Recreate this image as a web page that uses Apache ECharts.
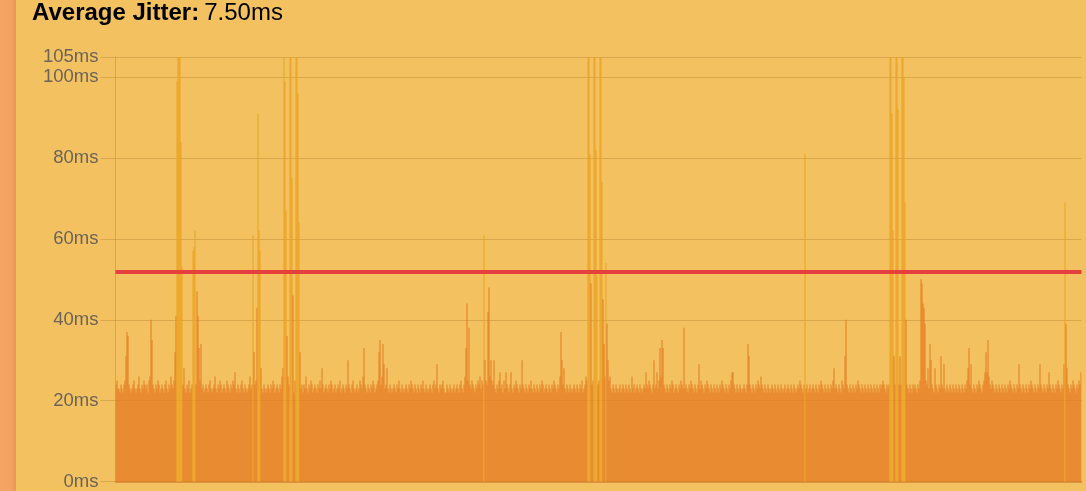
<!DOCTYPE html>
<html>
<head>
<meta charset="utf-8">
<script src="https://cdn.jsdelivr.net/npm/echarts@6/dist/echarts.min.js"></script>
<style>
html,body{margin:0;padding:0;background:#f3c160;}
#chart{width:1086px;height:491px;}
</style>
</head>
<body>
<div id="chart"></div>
<script>
// Jitter samples (ms), one bar per sample
const jitter = [
24,25,23,23,22,24,23,22,24,25,31,37,36,24,23,22,23,24,25,23,22,23,24,26,23,22,24,23,25,24,
23,24,22,25,26,40,35,24,23,22,24,23,25,24,22,23,24,23,22,24,25,23,22,24,23,26,24,23,25,32,
41,99,110,110,110,84,53,24,28,23,22,24,23,25,22,23,24,57,58,62,24,47,41,33,25,34,23,24,22,23,
24,23,22,24,25,23,22,23,24,26,23,22,24,23,25,24,22,23,24,23,22,25,24,23,22,24,23,25,24,27,
23,22,24,23,22,24,25,23,22,24,23,22,23,24,26,23,24,61,32,24,25,43,91,62,57,28,23,22,24,23,
22,23,24,23,22,24,23,25,24,22,23,24,23,22,24,23,26,28,110,99,67,36,26,24,110,110,75,46,22,25,
110,110,96,64,32,23,24,22,24,23,26,23,22,24,23,25,24,22,23,24,23,22,24,23,25,23,28,24,22,23,
24,23,22,24,23,25,24,22,23,24,22,23,24,23,25,22,23,24,23,22,24,23,30,24,23,22,24,25,23,22,
23,24,22,23,25,24,23,26,33,24,23,22,24,23,22,24,23,25,24,22,23,24,25,32,35,24,26,34,29,23,
24,28,23,22,24,23,22,23,24,23,22,24,23,25,23,22,24,23,22,23,24,23,22,24,23,25,24,23,22,24,
23,22,24,23,22,24,23,25,23,22,24,23,22,23,24,23,22,24,25,23,24,29,23,22,24,23,24,25,23,22,
22,24,23,22,24,23,22,23,24,22,23,24,23,22,24,25,23,22,24,26,33,44,25,38,24,23,25,24,23,22,
24,23,25,24,26,23,25,24,61,30,25,24,42,48,26,30,25,24,30,23,22,24,23,25,27,23,24,22,25,23,
27,24,23,22,24,27,23,22,24,23,25,24,23,22,24,23,30,24,23,22,24,23,22,24,23,25,23,22,24,23,
22,24,23,22,24,23,25,24,22,23,24,23,22,24,23,22,24,23,25,24,23,22,24,23,26,37,30,24,28,23,
22,24,23,22,24,23,22,23,24,23,22,24,23,22,24,23,25,22,23,24,26,25,110,110,81,49,24,25,110,110,
82,51,24,25,110,110,74,45,34,26,54,39,30,25,26,23,22,24,23,22,24,23,22,23,24,22,23,24,23,22,
24,23,22,24,23,22,26,23,24,22,23,24,23,22,24,23,22,23,24,23,27,24,23,25,24,23,22,24,30,23,
24,27,23,25,33,26,35,33,24,23,22,24,23,22,24,23,25,24,22,23,24,23,22,24,23,25,24,23,38,23,
24,23,22,24,23,25,24,23,22,24,23,22,24,29,23,25,24,23,22,24,23,25,24,23,22,24,23,22,24,23,
22,24,23,22,24,23,25,24,23,22,24,23,22,24,23,25,27,27,24,23,22,24,23,22,24,23,22,23,24,23,
22,24,34,31,24,23,22,24,23,22,24,23,25,24,23,26,24,23,22,24,23,22,24,23,22,23,24,23,22,24,
23,22,24,23,22,24,23,22,23,24,22,23,24,23,22,24,23,22,24,23,22,23,24,23,25,24,23,22,24,81,
23,24,22,23,24,22,23,24,23,22,24,23,22,24,23,25,24,23,22,24,23,22,24,23,22,24,23,25,28,23,
24,23,22,24,23,22,25,24,23,31,40,24,23,22,24,23,22,24,23,22,24,23,25,24,23,22,24,23,22,24,
23,22,24,23,22,24,23,22,24,23,22,24,23,22,24,23,24,25,24,23,22,24,23,24,110,110,91,62,31,24,
110,110,92,24,31,24,110,110,100,69,40,24,23,22,24,23,22,24,23,24,23,22,24,23,25,50,49,44,43,39,
25,24,28,23,34,30,24,23,22,28,24,23,22,24,23,31,24,23,29,23,22,24,23,22,24,23,22,24,23,22,
24,23,22,24,23,22,24,23,22,24,23,25,28,33,24,29,23,22,24,23,22,24,23,25,24,23,22,24,25,27,
32,27,35,26,24,23,25,24,23,22,24,23,22,24,23,22,24,23,22,24,23,22,24,23,25,24,23,22,24,23,
22,24,23,29,24,23,22,24,23,22,24,23,22,24,23,25,24,23,22,24,23,22,24,23,29,24,23,22,24,23,
22,24,23,27,24,23,22,24,23,22,24,23,25,24,23,22,24,23,29,69,39,28,24,23,22,24,23,25,24,23,
22,24,23,25,24,27
];
// Sample numbers for the category axis
const samples = jitter.map((_, i) => String(i + 1));
// Threshold line value (ms)
const thresholdLine = [52];
// Y axis range / tick step (ms)
const yRange = [0, 105];
const yStep = 20;
const averageJitter = '7.50ms';

const ORANGE = 'rgba(230,121,31,0.5)';
const YELLOW = 'rgba(235,162,29,0.5)';

const chart = echarts.init(document.getElementById('chart'), null, {renderer: 'canvas'});
chart.setOption({
  backgroundColor: '#f3c160',
  animation: false,
  graphic: [{
    type: 'rect',
    shape: {x: 0, y: 0, width: 16, height: 491},
    style: {
      fill: new echarts.graphic.LinearGradient(0, 0, 1, 0, [
        {offset: 0, color: '#f4a463'},
        {offset: 0.7, color: '#f3a261'},
        {offset: 1, color: '#e69758'}
      ])
    },
    z: 0
  }],
  title: {
    left: 32, top: 2, padding: 0,
    text: '{b|Average Jitter:} {n|' + averageJitter + '}',
    textStyle: {
      rich: {
        b: {fontFamily: 'Liberation Sans, Arial', fontWeight: 'bold', fontSize: 24, lineHeight: 23, color: '#000'},
        n: {fontFamily: 'Liberation Sans, Arial', fontWeight: 'normal', fontSize: 24, lineHeight: 23, color: '#000'}
      }
    }
  },
  grid: {left: 115.5, right: 4.5, top: 57, bottom: 8, containLabel: false},
  xAxis: {
    type: 'category',
    data: samples,
    axisLabel: {show: false},
    axisTick: {show: false},
    axisLine: {show: true, lineStyle: {color: '#d28637', width: 1.5}},
    splitLine: {show: false}
  },
  yAxis: {
    type: 'value',
    min: yRange[0], max: yRange[1], interval: yStep,
    axisLabel: {
      formatter: '{value}ms',
      color: '#6a6459',
      fontFamily: 'Liberation Sans, Arial',
      fontSize: 18.5,
      margin: 17
    },
    axisLine: {show: true, lineStyle: {color: 'rgba(170,120,40,0.35)'}},
    axisTick: {show: true, length: 15, lineStyle: {color: 'rgba(170,120,40,0.35)'}},
    splitLine: {show: true, lineStyle: {color: 'rgba(170,120,40,0.35)'}}
  },
  series: [{
    type: 'bar',
    data: jitter,
    barWidth: 2,
    clip: true,
    itemStyle: {
      color: function (p) { return p.value > 50.5 ? YELLOW : ORANGE; }
    },
    markLine: {
      silent: true,
      symbol: 'none',
      label: {show: false},
      lineStyle: {color: '#e6403e', width: 4, type: 'solid'},
      data: thresholdLine.map(v => ({yAxis: v}))
    }
  }]
});
</script>
</body>
</html>
